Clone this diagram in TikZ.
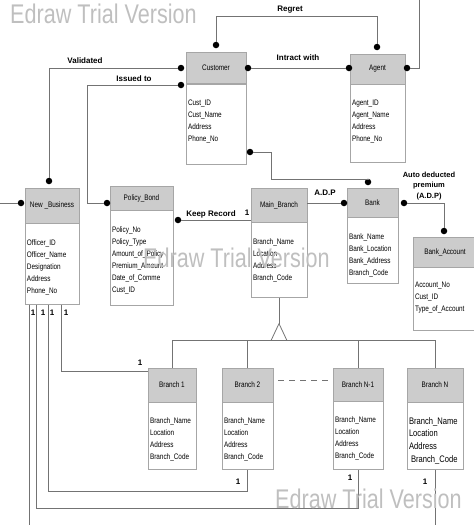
\documentclass[tikz,border=0pt]{standalone}
\usepackage{fontspec}
\setmainfont{Liberation Sans}
\newfontfamily\narrowfont[FakeStretch=0.8]{Liberation Sans}
\usetikzlibrary{positioning}

\tikzset{
	head/.style={draw=gray!70, fill=gray!40, inner sep=0pt, font=\narrowfont\fontsize{8}{10}\selectfont},
	body/.style={draw=gray!70, fill=white, inner sep=0pt},
	attrs/.style={inner sep=0pt, align=left, font=\narrowfont\fontsize{8}{12}\selectfont},
	dot/.style={circle, fill=black, inner sep=0pt, minimum size=6.5pt},
	link/.style={draw=black!55, line width=0.8pt},
	lbl/.style={inner sep=0pt, font=\bfseries\fontsize{8}{10}\selectfont},
	card/.style={inner sep=0pt, font=\bfseries\fontsize{8}{10}\selectfont},
	wmark/.style={inner sep=0pt, anchor=base west, text=gray!50, font=\narrowfont\fontsize{27}{30}\selectfont}
}

\begin{document}
\begin{tikzpicture}[x=1pt,y=-1pt]
	\useasboundingbox (0,0) rectangle (474,525);

	% entities
	\node[head, minimum width=60pt, minimum height=31pt] (cust) at (216,68) {Customer};
	\node[body, minimum width=60pt, minimum height=80.5pt, below=0pt of cust] (cust-body) {};
	\node[attrs, below right=16pt and 2pt of cust.south west] (cust-attrs) {Cust\_ID\\Cust\_Name\\Address\\Phone\_No};

	\node[head, minimum width=55pt, minimum height=30pt] (agent) at (377.5,69) {Agent};
	\node[body, minimum width=55pt, minimum height=78pt, below=0pt of agent] (agent-body) {};
	\node[attrs, below right=16pt and 2pt of agent.south west] (agent-attrs) {Agent\_ID\\Agent\_Name\\Address\\Phone\_No};

	\node[head, minimum width=54pt, minimum height=35pt] (newb) at (52,205.5) {New \_Business};
	\node[body, minimum width=54pt, minimum height=81pt, below=0pt of newb] (newb-body) {};
	\node[attrs, below right=16pt and 2pt of newb.south west] (newb-attrs) {Officer\_ID\\Officer\_Name\\Designation\\Address\\Phone\_No};

	\node[head, minimum width=63pt, minimum height=24pt] (polb) at (141.5,198) {Policy\_Bond};
	\node[body, minimum width=63pt, minimum height=95pt, below=0pt of polb] (polb-body) {};
	\node[attrs, below right=16pt and 2pt of polb.south west] (polb-attrs) {Policy\_No\\Policy\_Type\\Amount\_of\_Policy\\Premium\_Amount\\Date\_of\_Comme\\Cust\_ID};

	\node[head, minimum width=56pt, minimum height=34pt] (mainb) at (279,205) {Main\_Branch};
	\node[body, minimum width=56pt, minimum height=75pt, below=0pt of mainb] (mainb-body) {};
	\node[attrs, below right=16pt and 2pt of mainb.south west] (mainb-attrs) {Branch\_Name\\Location\\Address\\Branch\_Code};

	\node[head, minimum width=51pt, minimum height=29pt] (bank) at (372.5,202.5) {Bank};
	\node[body, minimum width=51pt, minimum height=66pt, below=0pt of bank] (bank-body) {};
	\node[attrs, below right=16pt and 2pt of bank.south west] (bank-attrs) {Bank\_Name\\Bank\_Location\\Bank\_Address\\Branch\_Code};

	\node[head, minimum width=64pt, minimum height=30pt] (bacc) at (445,252) {Bank\_Account};
	\node[body, minimum width=64pt, minimum height=63pt, below=0pt of bacc] (bacc-body) {};
	\node[attrs, below right=15pt and 2pt of bacc.south west] (bacc-attrs) {Account\_No\\Cust\_ID\\Type\_of\_Account};

	\node[head, minimum width=48pt, minimum height=34pt] (br1) at (172,385) {Branch 1};
	\node[body, minimum width=48pt, minimum height=67pt, below=0pt of br1] (br1-body) {};
	\node[attrs, below right=15pt and 2pt of br1.south west] (br1-attrs) {Branch\_Name\\Location\\Address\\Branch\_Code};

	\node[head, minimum width=51pt, minimum height=34pt] (br2) at (247.5,385) {Branch 2};
	\node[body, minimum width=51pt, minimum height=67pt, below=0pt of br2] (br2-body) {};
	\node[attrs, below right=15pt and 2pt of br2.south west] (br2-attrs) {Branch\_Name\\Location\\Address\\Branch\_Code};

	\node[head, minimum width=50pt, minimum height=33pt] (brn1) at (358,384.5) {Branch N-1};
	\node[body, minimum width=50pt, minimum height=68pt, below=0pt of brn1] (brn1-body) {};
	\node[attrs, below right=15pt and 2pt of brn1.south west] (brn1-attrs) {Branch\_Name\\Location\\Address\\Branch\_Code};

	\node[head, minimum width=56pt, minimum height=34pt] (brn) at (435,385) {Branch N};
	\node[body, minimum width=56pt, minimum height=67pt, below=0pt of brn] (brn-body) {};
	\node[attrs, font=\narrowfont\fontsize{9.5}{12.7}\selectfont, below right=15pt and 2pt of brn.south west] (brn-attrs) {Branch\_Name\\Location\\Address\\\ Branch\_Code};

	% end dots
	\node[dot] (cust-t) at (216,45) {};
	\node[dot] (cust-l1) at (181,68) {};
	\node[dot] (cust-l2) at (181,85) {};
	\node[dot] (cust-r) at (248,68) {};
	\node[dot] (cust-br) at (250,152) {};
	\node[dot] (agent-t) at (377,47) {};
	\node[dot] (agent-l) at (349,68) {};
	\node[dot] (agent-r) at (407,68) {};
	\node[dot] (newb-t) at (49,181) {};
	\node[dot] (newb-l) at (21,203) {};
	\node[dot] (polb-l) at (107,203) {};
	\node[dot] (polb-r) at (178,220) {};
	\node[dot] (bank-t) at (368,182) {};
	\node[dot] (bank-l) at (344,203) {};
	\node[dot] (bank-r) at (404,203) {};
	\node[dot] (bacc-t) at (444,231) {};
	\coordinate (top-out) at (419,-5);

	% relations
	\draw[link] (cust-t) -- ++(0,-29) -| (agent-t);
	\node[lbl] (regret) at (290,10) {Regret};
	\draw[link] (cust-r) -- (agent-l);
	\node[lbl] (intract) at (298,58) {Intract with};
	\draw[link] (agent-r) -| (top-out);
	\draw[link] (cust-l1) -| (newb-t);
	\node[lbl] (validated) at (85,61) {Validated};
	\draw[link] (cust-l2) -- ++(-94,0) |- (polb-l);
	\node[lbl] (issued) at (134,79) {Issued to};
	\draw[link] (cust-br) -- ++(21,0) -- ++(0,27) -| (bank-t);
	\draw[link] (newb-l) -- ++(-26,0);
	\draw[link] (polb-r) -- (polb-r -| mainb.west);
	\node[lbl] (keep) at (211,214) {Keep Record};
	\node[card] at (247,213) {1};
	\draw[link] (mainb.east |- bank-l) -- (bank-l);
	\node[lbl] (adp) at (325,193) {A.D.P};
	\draw[link] (bank-r) -| (bacc-t);
	\node[lbl, align=center, font=\bfseries\fontsize{7.5}{10.5}\selectfont] (auto) at (429,186) {Auto deducted\\premium\\(A.D.P)};

	% branches
	\draw[link] (mainb-body.south) -- ++(0,26) coordinate (crow);
	\draw[link] (crow) -- ++(-8,17) (crow) -- ++(8,17);
	\draw[link] (br1.north) -- ++(0,-27) -| (brn.north);
	\draw[link] (br2.north) -- ++(0,-27);
	\draw[link] (brn1.north) -- ++(0,-27);
	\draw[link, dashed, dash pattern=on 6pt off 5pt] ([xshift=5pt,yshift=5pt]br2.east) -- ([xshift=-5pt,yshift=5pt]br2.east -| brn1.west);

	\draw[link] ([xshift=37pt]newb-body.south west) |- ([yshift=-4pt]br1.north west);
	\draw[link] ([xshift=24pt]newb-body.south west) -- ++(0,187) -| (br2-body.south);
	\draw[link] ([xshift=12pt]newb-body.south west) -- ++(0,204) -| (brn1-body.south);
	\draw[link] ([xshift=5pt]newb-body.south west) -- ++(0,230);
	\draw[link] (brn-body.south) -- ++(0,65);
	\node[card] at (33,313) {1};
	\node[card] at (43,313) {1};
	\node[card] at (52,313) {1};
	\node[card] at (66,313) {1};
	\node[card] at (140,363) {1};
	\node[card] at (238,482) {1};
	\node[card] at (350,478) {1};
	\node[card] at (425,482) {1};

	% watermark
	\node[wmark] (wm-top) at (10,23) {Edraw Trial Version};
	\node[wmark] (wm-mid) at (143,267) {Edraw Trial Version};
	\node[wmark] (wm-bot) at (275,508) {Edraw Trial Version};
\end{tikzpicture}
\end{document}
